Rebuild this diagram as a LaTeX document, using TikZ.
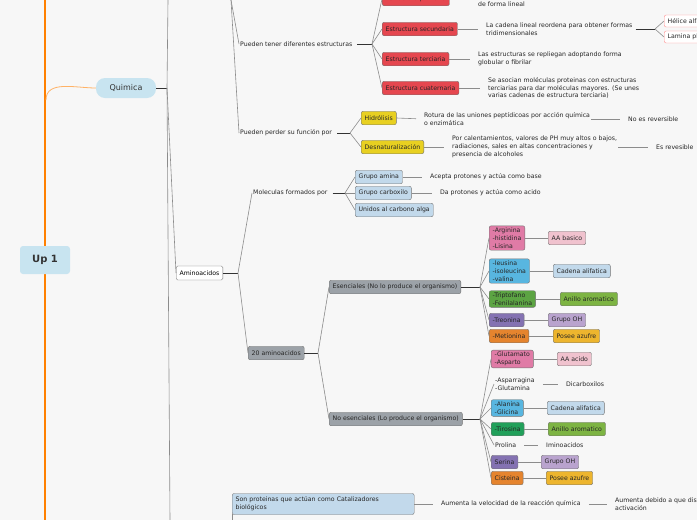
\documentclass[tikz,border=0pt]{standalone}
\usepackage{fontspec}
\setmainfont{DejaVu Sans}
\usetikzlibrary{calc}
\definecolor{bg}{HTML}{F7F7F7}
\definecolor{lblue}{HTML}{C8E4F0}
\definecolor{redf}{HTML}{E5474F}
\definecolor{yelf}{HTML}{E8D021}
\definecolor{grayf}{HTML}{9CA2A8}
\definecolor{pinkf}{HTML}{E07BA6}
\definecolor{bluef}{HTML}{58B6E0}
\definecolor{greenf}{HTML}{5CA443}
\definecolor{teal}{HTML}{21A05A}
\definecolor{purf}{HTML}{8472B2}
\definecolor{oranf}{HTML}{E5842E}
\definecolor{lpink}{HTML}{F0C2CE}
\definecolor{lbl}{HTML}{C2D9EB}
\definecolor{lgreen}{HTML}{7DB443}
\definecolor{lpur}{HTML}{B9A3CE}
\definecolor{azuf}{HTML}{EDB52E}
\newcommand{\fs}{\fontsize{6.2pt}{7.8pt}\selectfont}
\tikzset{
 x=1pt,y=-1pt,
 bx/.style={draw=black!55, rounded corners=2pt, inner xsep=3.5pt, inner ysep=2pt, minimum height=13.5pt, anchor=west, font=\fs, align=left, text=black!85},
 tx/.style={anchor=west, font=\fs, align=left, inner sep=1pt, text=black!85},
 ln/.style={draw=black!45, line width=0.6pt},
 lnt/.style={ln, shorten >=7pt},
 lns/.style={ln, shorten <=7pt},
 hub/.style={draw=black!80, line width=1pt},
}
\begin{document}
\begin{tikzpicture}
\useasboundingbox (0,0) rectangle (697,520);
\fill[bg] (0,0) rectangle (697,520);
\clip (0,0) rectangle (697,520);
% orange spine
\draw[orange, line width=2.5pt] (45,0) -- (45,520);
\node[fill=lblue, rounded corners=3pt, minimum width=50pt, minimum height=28pt, font=\fontsize{10pt}{12pt}\selectfont\bfseries, text=black!80] (up) at (45,260) {Up 1};
\node[fill=lblue, rounded corners=9pt, minimum width=60pt, minimum height=20pt, font=\fontsize{8pt}{10pt}\selectfont, text=black!80] (qui) at (126,88) {Quimica};
\draw[orange!60, line width=0.8pt] (46,100) to[out=90,in=180] (qui.west);
% trunk
\coordinate (t) at (167,88);
\draw[hub] (qui.east) -- (t);
\draw[ln] (t) -- (168,0);
\draw[ln] (t) -- (170,520);
\node[draw=black!55, fill=white, rounded corners=1.5pt, anchor=west, font=\fs, inner xsep=3.5pt, minimum height=14pt] (amino) at (176,273) {Aminoacidos};
\draw[ln] (t) -- (amino.west);
% Pueden tener
\node[tx] (pt) at (239,44) {Pueden tener diferentes estructuras};
\node[tx] (pp) at (239,133) {Pueden perder su función por};
\draw[ln] (231,0) -- (pt.west);
\draw[ln] (231,0) -- (pp.west);
\coordinate (h1) at (372,44);
\draw[hub] ($(pt.east)+(4,0)$) -- (h1);
\node[bx, fill=redf] (e1) at (382,-1) {Estructura primaria};
\node[bx, fill=redf] (e2) at (382,29) {Estructura secundaria};
\node[bx, fill=redf] (e3) at (382,59) {Estructura terciaria};
\node[bx, fill=redf] (e4) at (382,88) {Estructura cuaternaria};
\foreach \n in {e1,e2,e3,e4} \draw[ln] (h1) -- (\n.west);
\node[tx] (e1t) at (477,4) {de forma lineal};
\node[tx] (e2t) at (485,29) {La cadena lineal reordena para obtener formas\\tridimensionales};
\node[tx] (e3t) at (477,59) {Las estructuras se repliegan adoptando forma\\globular o fibrilar};
\node[tx] (e4t) at (487,88) {Se asocian moléculas proteinas con estructuras\\terciarias para dar moléculas mayores. (Se unes\\varias cadenas de estructura terciaria)};
\draw[lnt] (e1.east) -- (e1t.west|-e1.east);
\draw[lnt] (e2.east) -- (e2t.west);
\draw[lnt] (e3.east) -- (e3t.west);
\draw[lnt] (e4.east) -- (e4t.west);
\coordinate (h2) at (655,29);
\draw[hub] ($(e2t.east)+(2,0)$) -- (h2);
\node[bx, draw=red!45, fill=white, minimum height=12pt] (ha) at (664,21) {Hélice alfa};
\node[bx, draw=red!45, fill=white, minimum height=12pt] (lp) at (664,37) {Lamina plegada};
\draw[ln] (h2) -- (ha.west); \draw[ln] (h2) -- (lp.west);
% Pueden perder
\coordinate (h3) at (350,133);
\draw[hub] ($(pp.east)+(4,0)$) -- (h3);
\node[bx, fill=yelf] (hid) at (361,118) {Hidrólisis};
\node[bx, fill=yelf] (des) at (361,147) {Desnaturalización};
\draw[ln] (h3) -- (hid.west); \draw[ln] (h3) -- (des.west);
\node[tx] (hidt) at (423,119) {Rotura de las uniones peptídicoas por acción química\\o enzimática};
\node[tx] (dest) at (451,147) {Por calentamientos, valores de PH muy altos o bajos,\\radiaciones, sales en altas concentraciones y\\presencia de alcoholes};
\draw[lnt] (hid.east) -- (hidt.west); \draw[lnt] (des.east) -- (dest.west);
\node[tx] (nor) at (627,119) {No es reversible};
\node[tx] (esr) at (655,147) {Es revesible};
\draw[lnt] (hidt.east) -- (nor.west); \draw[lnt] ($(dest.east)+(0,0)$) -- (esr.west);
% Aminoacidos
\coordinate (h4) at (238,273);
\draw[hub] (amino.east) -- (h4);
\node[tx] (mol) at (252,193) {Moleculas formados por};
\node[bx, fill=grayf] (a20) at (248,353) {20 aminoacidos};
\draw[ln] (h4) -- (mol.west); \draw[ln] (h4) -- (a20.west);
\coordinate (h5) at (345,193);
\draw[hub] ($(mol.east)+(4,0)$) -- (h5);
\node[bx, fill=lbl] (ga) at (355,177) {Grupo amina};
\node[bx, fill=lbl] (gc) at (355,193) {Grupo carboxilo};
\node[bx, fill=lbl] (uc) at (355,210) {Unidos al carbono alga};
\foreach \n in {ga,gc,uc} \draw[ln] (h5) -- (\n.west);
\node[tx] (gat) at (429,177) {Acepta protones y actúa como base};
\node[tx] (gct) at (439,193) {Da protones y actúa como acido};
\draw[lnt] (ga.east) -- (gat.west); \draw[lnt] (gc.east) -- (gct.west);
\coordinate (h6) at (318,353);
\draw[hub] (a20.east) -- (h6);
\node[bx, fill=grayf] (ese) at (329,287) {Esenciales (No lo produce el organismo)};
\node[bx, fill=grayf] (noe) at (329,419) {No esenciales (Lo produce el organismo)};
\draw[ln] (h6) -- (ese.west); \draw[ln] (h6) -- (noe.west);
% Esenciales
\coordinate (h7) at (480,287);
\draw[hub] (ese.east) -- (h7);
\node[bx, fill=pinkf] (s1) at (489,238) {-Arginina\\-histidina\\-Lisina};
\node[bx, fill=bluef] (s2) at (489,271) {-leusina\\-isoleucina\\-valina};
\node[bx, fill=greenf] (s3) at (489,299) {-Triptofano\\-Fenilalanina};
\node[bx, fill=purf] (s4) at (489,320) {-Treonina};
\node[bx, fill=oranf] (s5) at (489,336) {-Metionina};
\foreach \n in {s1,s2,s3,s4,s5} \draw[ln] (h7) -- (\n.west);
\node[bx, fill=lpink] (r1) at (548,238) {AA basico};
\node[bx, fill=lbl] (r2) at (553,271) {Cadena alifatica};
\node[bx, fill=lgreen] (r3) at (560,299) {Anillo aromatico};
\node[bx, fill=lpur] (r4) at (548,320) {Grupo OH};
\node[bx, fill=azuf] (r5) at (553,336) {Posee azufre};
\foreach \i in {1,...,5} \draw[ln] (s\i.east) -- (r\i.west);
% No esenciales
\coordinate (h8) at (480,419);
\draw[hub] (noe.east) -- (h8);
\node[bx, fill=pinkf] (n1) at (491,359) {-Glutamato\\-Asparto};
\node[tx] (n2) at (494,384) {-Asparragina\\-Glutamina};
\node[bx, fill=bluef] (n3) at (491,408) {-Alanina\\-Glicina};
\node[bx, fill=teal] (n4) at (491,429) {-Tirosina};
\node[tx] (n5) at (494,445) {Prolina};
\node[bx, fill=purf] (n6) at (491,462) {Serina};
\node[bx, fill=oranf] (n7) at (491,478) {Cisteina};
\foreach \n in {n1,n2,n3,n4,n5,n6,n7} \draw[ln] (h8) -- (\n.west);
\node[bx, fill=lpink] (m1) at (557,359) {AA acido};
\node[tx] (m2) at (565,384) {Dicarboxilos};
\node[bx, fill=lbl] (m3) at (547,408) {Cadena alifatica};
\node[bx, fill=lgreen] (m4) at (548,429) {Anillo aromatico};
\node[tx] (m5) at (545,445) {Iminoacidos};
\node[bx, fill=lpur] (m6) at (541,462) {Grupo OH};
\node[bx, fill=azuf] (m7) at (546,478) {Posee azufre};
\foreach \i in {1,3,4,6,7} \draw[ln] (n\i.east) -- (m\i.west);
\draw[lns,lnt] (n2.east) -- (m2.west);
\draw[lns,lnt] (n5.east) -- (m5.west);
% Enzimas
\node[bx, fill=lbl, text width=175pt, minimum height=21pt] (son) at (232,504) {Son proteinas que actúan como Catalizadores\\biológicos};
\draw[ln] (232,514) -- (232,520);
\node[tx] (aum) at (440,504) {Aumenta la velocidad de la reacción química};
\node[tx] (aum2) at (614,504) {Aumenta debido a que disminuye la energía de\\activación};
\draw[lnt] (son.east) -- (aum.west); \draw[lns,lnt] (aum.east) -- (aum2.west);
\end{tikzpicture}
\end{document}
